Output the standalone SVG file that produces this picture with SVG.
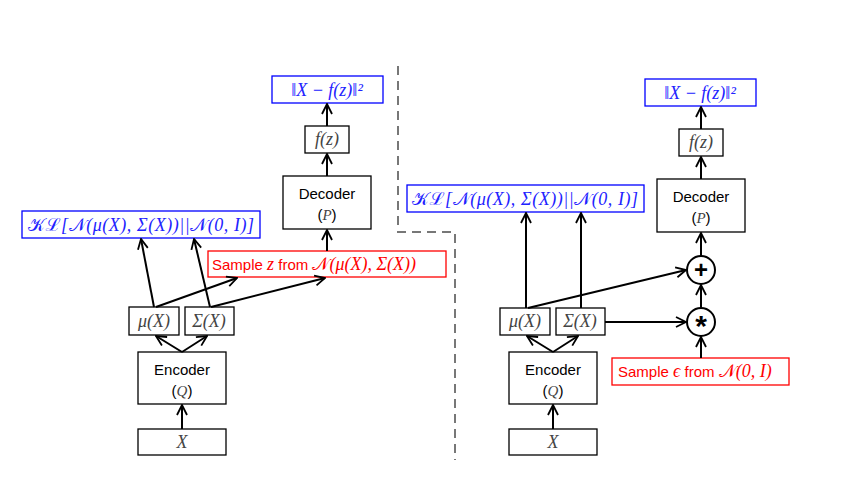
<svg xmlns="http://www.w3.org/2000/svg" width="849" height="495" viewBox="0 0 849 495">
<defs>
<marker id="a" viewBox="0 0 12 12" refX="11" refY="6" markerWidth="12" markerHeight="12" markerUnits="userSpaceOnUse" orient="auto"><path d="M1,1 L11,6 L1,11" fill="none" stroke="#000" stroke-width="1.8"/></marker>
</defs>
<style>
.b{fill:#fff;stroke:#000;stroke-width:1.3}
.bb{fill:#fff;stroke:#0000ff;stroke-width:1.3}
.rb{fill:#fff;stroke:#ff0000;stroke-width:1.3}
.m{font-family:"Liberation Serif",serif;font-style:italic;font-size:18px;text-anchor:middle;fill:#444}
.mb{font-family:"Liberation Serif",serif;font-style:italic;font-size:18px;text-anchor:middle;fill:#2222ff}
.s{font-family:"Liberation Sans",sans-serif;font-size:15px;text-anchor:middle;fill:#000}
.r{font-family:"Liberation Sans",sans-serif;font-size:15px;font-style:normal;fill:#ff0000}
.rm{font-family:"Liberation Serif",serif;font-style:italic;font-size:18px;fill:#ff0000}
.sc{font-family:"DejaVu Serif","Noto Sans",serif;font-style:normal}
.c{stroke:#000;stroke-width:2;fill:none;marker-end:url(#a)}
</style>
<rect width="849" height="495" fill="#fff"/>
<path d="M398,66 V232 H455 V460" fill="none" stroke="#777" stroke-width="2" stroke-dasharray="9,6"/>
<g id="L_norm"><rect class="bb" x="272" y="76" width="111" height="27"/><text class="mb" x="327" y="96">‖X − f(z)‖²</text></g>
<g id="L_fz"><rect class="b" x="305" y="126" width="44" height="27"/><text class="m" x="327" y="145">f(z)</text></g>
<g id="L_dec"><rect class="b" x="283" y="176" width="88" height="53"/><text class="s" x="327" y="199">Decoder</text><text class="s" x="327" y="220">(<tspan font-family="Liberation Serif" font-style="italic" fill="#444">P</tspan>)</text></g>
<g id="L_kl"><rect class="bb" x="22" y="211" width="238" height="27"/><text class="mb" x="141" y="231" textLength="226"><tspan class="sc">𝒦ℒ</tspan>[<tspan class="sc">𝒩</tspan>(μ(X), Σ(X))||<tspan class="sc">𝒩</tspan>(0, I)]</text></g>
<g id="L_samp"><rect class="rb" x="208" y="251" width="238" height="26"/><text x="212" y="270"><tspan class="r">Sample </tspan><tspan class="rm">z</tspan><tspan class="r"> from </tspan><tspan class="rm"><tspan class="sc">𝒩</tspan>(μ(X), Σ(X))</tspan></text></g>
<g id="L_mu"><rect class="b" x="129" y="307" width="50" height="28"/><text class="m" x="154" y="327">μ(X)</text></g>
<g id="L_sig"><rect class="b" x="185" y="307" width="49" height="28"/><text class="m" x="209" y="327">Σ(X)</text></g>
<g id="L_enc"><rect class="b" x="138" y="352" width="88" height="52"/><text class="s" x="182" y="375">Encoder</text><text class="s" x="182" y="396">(<tspan font-family="Liberation Serif" font-style="italic" fill="#444">Q</tspan>)</text></g>
<g id="L_x"><rect class="b" x="138" y="429" width="88" height="26"/><text class="m" x="182" y="448">X</text></g>

<g id="R_norm"><rect class="bb" x="645" y="79" width="111" height="27"/><text class="mb" x="700" y="99">‖X − f(z)‖²</text></g>
<g id="R_fz"><rect class="b" x="679" y="129" width="44" height="27"/><text class="m" x="701" y="148">f(z)</text></g>
<g id="R_dec"><rect class="b" x="657" y="179" width="88" height="53"/><text class="s" x="701" y="202">Decoder</text><text class="s" x="701" y="223">(<tspan font-family="Liberation Serif" font-style="italic" fill="#444">P</tspan>)</text></g>
<g id="R_kl"><rect class="bb" x="407" y="185" width="237" height="27"/><text class="mb" x="525" y="205" textLength="226"><tspan class="sc">𝒦ℒ</tspan>[<tspan class="sc">𝒩</tspan>(μ(X), Σ(X))||<tspan class="sc">𝒩</tspan>(0, I)]</text></g>
<g id="R_plus"><circle cx="701" cy="270" r="14" fill="#fff" stroke="#000" stroke-width="2"/><text x="701" y="278" font-family="Liberation Sans,sans-serif" font-size="24" font-weight="bold" text-anchor="middle">+</text></g>
<g id="R_star"><circle cx="701" cy="322" r="14" fill="#fff" stroke="#000" stroke-width="2"/><text x="701" y="336" font-family="Liberation Sans,sans-serif" font-size="30" font-weight="bold" text-anchor="middle">*</text></g>
<g id="R_mu"><rect class="b" x="500" y="308" width="50" height="27"/><text class="m" x="525" y="327">μ(X)</text></g>
<g id="R_sig"><rect class="b" x="556" y="308" width="49" height="27"/><text class="m" x="580" y="327">Σ(X)</text></g>
<g id="R_enc"><rect class="b" x="509" y="352" width="88" height="52"/><text class="s" x="553" y="375">Encoder</text><text class="s" x="553" y="396">(<tspan font-family="Liberation Serif" font-style="italic" fill="#444">Q</tspan>)</text></g>
<g id="R_x"><rect class="b" x="509" y="429" width="88" height="26"/><text class="m" x="553" y="448">X</text></g>
<g id="R_samp"><rect class="rb" x="612" y="358" width="177" height="27"/><text x="618" y="377"><tspan class="r">Sample </tspan><tspan class="rm">ϵ</tspan><tspan class="r"> from </tspan><tspan class="rm"><tspan class="sc">𝒩</tspan>(0, I)</tspan></text></g>

<g id="connectors">
<path class="c" d="M182,429 V405"/>
<path class="c" d="M182,352 L156,336"/>
<path class="c" d="M182,352 L207,336"/>
<path class="c" d="M154,307 L141,239"/>
<path class="c" d="M156,307 L237,278"/>
<path class="c" d="M210,307 L194,239"/>
<path class="c" d="M211,307 L325,278"/>
<path class="c" d="M327,251 V230"/>
<path class="c" d="M327,176 V154"/>
<path class="c" d="M327,126 V104"/>
<path class="c" d="M553,429 V405"/>
<path class="c" d="M553,352 L527,336"/>
<path class="c" d="M553,352 L578,336"/>
<path class="c" d="M526,308 V213"/>
<path class="c" d="M581,308 V213"/>
<path class="c" d="M528,308 L686,270"/>
<path class="c" d="M605,322 H686"/>
<path class="c" d="M701,358 V337"/>
<path class="c" d="M701,308 V285"/>
<path class="c" d="M701,256 V233"/>
<path class="c" d="M701,179 V157"/>
<path class="c" d="M701,129 V107"/>
</g>
</svg>
